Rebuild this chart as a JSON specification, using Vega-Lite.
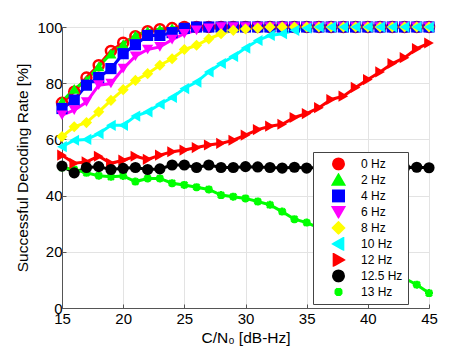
{
"$schema": "https://vega.github.io/schema/vega-lite/v6.json",
"width": 367, "height": 281,
"autosize": {"type": "none"},
"padding": {"left": 62, "top": 27, "right": 45, "bottom": 47},
"background": "white",
"config": {
 "font": "Liberation Sans",
 "view": {"stroke": "#555", "strokeWidth": 1},
 "axis": {"domainColor": "#555", "tickColor": "#555", "gridColor": "#e3e3e3", "labelColor": "black", "titleColor": "black", "labelFontSize": 15, "titleFontSize": 15.5, "titleFontWeight": "normal", "labelFont": "Liberation Sans", "titleFont": "Liberation Sans", "labelOverlap": false, "labelFlush": false, "tickSize": -4}
},
"datasets": {"d": [
{"s":"0 Hz","x":15,"y":73},{"s":"0 Hz","x":16,"y":77},{"s":"0 Hz","x":17,"y":82},{"s":"0 Hz","x":18,"y":86.4},{"s":"0 Hz","x":19,"y":91.5},{"s":"0 Hz","x":20,"y":94.4},{"s":"0 Hz","x":21,"y":96.7},{"s":"0 Hz","x":22,"y":98.5},{"s":"0 Hz","x":23,"y":99.2},{"s":"0 Hz","x":24,"y":99.6},{"s":"0 Hz","x":25,"y":100},{"s":"0 Hz","x":26,"y":100},{"s":"0 Hz","x":27,"y":100},{"s":"0 Hz","x":28,"y":100},{"s":"0 Hz","x":29,"y":100},{"s":"0 Hz","x":30,"y":100},{"s":"0 Hz","x":31,"y":100},{"s":"0 Hz","x":32,"y":100},{"s":"0 Hz","x":33,"y":100},{"s":"0 Hz","x":34,"y":100},{"s":"0 Hz","x":35,"y":100},{"s":"0 Hz","x":36,"y":100},{"s":"0 Hz","x":37,"y":100},{"s":"0 Hz","x":38,"y":100},{"s":"0 Hz","x":39,"y":100},{"s":"0 Hz","x":40,"y":100},{"s":"0 Hz","x":41,"y":100},{"s":"0 Hz","x":42,"y":100},{"s":"0 Hz","x":43,"y":100},{"s":"0 Hz","x":44,"y":100},{"s":"0 Hz","x":45,"y":100},
{"s":"2 Hz","x":15,"y":73.5},{"s":"2 Hz","x":16,"y":78},{"s":"2 Hz","x":17,"y":81},{"s":"2 Hz","x":18,"y":86},{"s":"2 Hz","x":19,"y":90.5},{"s":"2 Hz","x":20,"y":93.9},{"s":"2 Hz","x":21,"y":97},{"s":"2 Hz","x":22,"y":98.5},{"s":"2 Hz","x":23,"y":99.2},{"s":"2 Hz","x":24,"y":99.6},{"s":"2 Hz","x":25,"y":100},{"s":"2 Hz","x":26,"y":100},{"s":"2 Hz","x":27,"y":100},{"s":"2 Hz","x":28,"y":100},{"s":"2 Hz","x":29,"y":100},{"s":"2 Hz","x":30,"y":100},{"s":"2 Hz","x":31,"y":100},{"s":"2 Hz","x":32,"y":100},{"s":"2 Hz","x":33,"y":100},{"s":"2 Hz","x":34,"y":100},{"s":"2 Hz","x":35,"y":100},{"s":"2 Hz","x":36,"y":100},{"s":"2 Hz","x":37,"y":100},{"s":"2 Hz","x":38,"y":100},{"s":"2 Hz","x":39,"y":100},{"s":"2 Hz","x":40,"y":100},{"s":"2 Hz","x":41,"y":100},{"s":"2 Hz","x":42,"y":100},{"s":"2 Hz","x":43,"y":100},{"s":"2 Hz","x":44,"y":100},{"s":"2 Hz","x":45,"y":100},
{"s":"4 Hz","x":15,"y":71},{"s":"4 Hz","x":16,"y":74},{"s":"4 Hz","x":17,"y":79.3},{"s":"4 Hz","x":18,"y":82},{"s":"4 Hz","x":19,"y":85.2},{"s":"4 Hz","x":20,"y":90.5},{"s":"4 Hz","x":21,"y":93.7},{"s":"4 Hz","x":22,"y":97},{"s":"4 Hz","x":23,"y":97},{"s":"4 Hz","x":24,"y":98},{"s":"4 Hz","x":25,"y":99.5},{"s":"4 Hz","x":26,"y":100},{"s":"4 Hz","x":27,"y":100},{"s":"4 Hz","x":28,"y":100},{"s":"4 Hz","x":29,"y":100},{"s":"4 Hz","x":30,"y":100},{"s":"4 Hz","x":31,"y":100},{"s":"4 Hz","x":32,"y":100},{"s":"4 Hz","x":33,"y":100},{"s":"4 Hz","x":34,"y":100},{"s":"4 Hz","x":35,"y":100},{"s":"4 Hz","x":36,"y":100},{"s":"4 Hz","x":37,"y":100},{"s":"4 Hz","x":38,"y":100},{"s":"4 Hz","x":39,"y":100},{"s":"4 Hz","x":40,"y":100},{"s":"4 Hz","x":41,"y":100},{"s":"4 Hz","x":42,"y":100},{"s":"4 Hz","x":43,"y":100},{"s":"4 Hz","x":44,"y":100},{"s":"4 Hz","x":45,"y":100},
{"s":"6 Hz","x":15,"y":68.6},{"s":"6 Hz","x":16,"y":70.4},{"s":"6 Hz","x":17,"y":73.3},{"s":"6 Hz","x":18,"y":79.3},{"s":"6 Hz","x":19,"y":79.9},{"s":"6 Hz","x":20,"y":85.2},{"s":"6 Hz","x":21,"y":89.6},{"s":"6 Hz","x":22,"y":92},{"s":"6 Hz","x":23,"y":92.9},{"s":"6 Hz","x":24,"y":95.5},{"s":"6 Hz","x":25,"y":97.6},{"s":"6 Hz","x":26,"y":98.8},{"s":"6 Hz","x":27,"y":99.5},{"s":"6 Hz","x":28,"y":100},{"s":"6 Hz","x":29,"y":100},{"s":"6 Hz","x":30,"y":100},{"s":"6 Hz","x":31,"y":100},{"s":"6 Hz","x":32,"y":100},{"s":"6 Hz","x":33,"y":100},{"s":"6 Hz","x":34,"y":100},{"s":"6 Hz","x":35,"y":100},{"s":"6 Hz","x":36,"y":100},{"s":"6 Hz","x":37,"y":100},{"s":"6 Hz","x":38,"y":100},{"s":"6 Hz","x":39,"y":100},{"s":"6 Hz","x":40,"y":100},{"s":"6 Hz","x":41,"y":100},{"s":"6 Hz","x":42,"y":100},{"s":"6 Hz","x":43,"y":100},{"s":"6 Hz","x":44,"y":100},{"s":"6 Hz","x":45,"y":100},
{"s":"8 Hz","x":15,"y":61},{"s":"8 Hz","x":16,"y":64.5},{"s":"8 Hz","x":17,"y":66},{"s":"8 Hz","x":18,"y":69.8},{"s":"8 Hz","x":19,"y":73.9},{"s":"8 Hz","x":20,"y":77.7},{"s":"8 Hz","x":21,"y":81},{"s":"8 Hz","x":22,"y":83.4},{"s":"8 Hz","x":23,"y":86.4},{"s":"8 Hz","x":24,"y":88.7},{"s":"8 Hz","x":25,"y":92},{"s":"8 Hz","x":26,"y":93.5},{"s":"8 Hz","x":27,"y":95.8},{"s":"8 Hz","x":28,"y":97.6},{"s":"8 Hz","x":29,"y":98.8},{"s":"8 Hz","x":30,"y":99.3},{"s":"8 Hz","x":31,"y":99.6},{"s":"8 Hz","x":32,"y":100},{"s":"8 Hz","x":33,"y":100},{"s":"8 Hz","x":34,"y":100},{"s":"8 Hz","x":35,"y":100},{"s":"8 Hz","x":36,"y":100},{"s":"8 Hz","x":37,"y":100},{"s":"8 Hz","x":38,"y":100},{"s":"8 Hz","x":39,"y":100},{"s":"8 Hz","x":40,"y":100},{"s":"8 Hz","x":41,"y":100},{"s":"8 Hz","x":42,"y":100},{"s":"8 Hz","x":43,"y":100},{"s":"8 Hz","x":44,"y":100},{"s":"8 Hz","x":45,"y":100},
{"s":"10 Hz","x":15,"y":57.4},{"s":"10 Hz","x":16,"y":59.7},{"s":"10 Hz","x":17,"y":60},{"s":"10 Hz","x":18,"y":62},{"s":"10 Hz","x":19,"y":65},{"s":"10 Hz","x":20,"y":65},{"s":"10 Hz","x":21,"y":68.3},{"s":"10 Hz","x":22,"y":69.8},{"s":"10 Hz","x":23,"y":72.5},{"s":"10 Hz","x":24,"y":74.9},{"s":"10 Hz","x":25,"y":78.1},{"s":"10 Hz","x":26,"y":80.4},{"s":"10 Hz","x":27,"y":84},{"s":"10 Hz","x":28,"y":87},{"s":"10 Hz","x":29,"y":89.5},{"s":"10 Hz","x":30,"y":92.5},{"s":"10 Hz","x":31,"y":95.2},{"s":"10 Hz","x":32,"y":97},{"s":"10 Hz","x":33,"y":97.6},{"s":"10 Hz","x":34,"y":98.8},{"s":"10 Hz","x":35,"y":99.6},{"s":"10 Hz","x":36,"y":100},{"s":"10 Hz","x":37,"y":100},{"s":"10 Hz","x":38,"y":100},{"s":"10 Hz","x":39,"y":100},{"s":"10 Hz","x":40,"y":100},{"s":"10 Hz","x":41,"y":100},{"s":"10 Hz","x":42,"y":100},{"s":"10 Hz","x":43,"y":100},{"s":"10 Hz","x":44,"y":100},{"s":"10 Hz","x":45,"y":100},
{"s":"12 Hz","x":15,"y":54.4},{"s":"12 Hz","x":16,"y":51.5},{"s":"12 Hz","x":17,"y":52},{"s":"12 Hz","x":18,"y":54},{"s":"12 Hz","x":19,"y":51.5},{"s":"12 Hz","x":20,"y":52.6},{"s":"12 Hz","x":21,"y":54},{"s":"12 Hz","x":22,"y":52.9},{"s":"12 Hz","x":23,"y":54.4},{"s":"12 Hz","x":24,"y":55.6},{"s":"12 Hz","x":25,"y":56.2},{"s":"12 Hz","x":26,"y":57.1},{"s":"12 Hz","x":27,"y":58},{"s":"12 Hz","x":28,"y":58.6},{"s":"12 Hz","x":29,"y":59.7},{"s":"12 Hz","x":30,"y":61.5},{"s":"12 Hz","x":31,"y":63.5},{"s":"12 Hz","x":32,"y":64.7},{"s":"12 Hz","x":33,"y":65.4},{"s":"12 Hz","x":34,"y":67.8},{"s":"12 Hz","x":35,"y":69.2},{"s":"12 Hz","x":36,"y":71.3},{"s":"12 Hz","x":37,"y":74.2},{"s":"12 Hz","x":38,"y":75.4},{"s":"12 Hz","x":39,"y":78.5},{"s":"12 Hz","x":40,"y":81.3},{"s":"12 Hz","x":41,"y":84},{"s":"12 Hz","x":42,"y":87},{"s":"12 Hz","x":43,"y":89.1},{"s":"12 Hz","x":44,"y":92.3},{"s":"12 Hz","x":45,"y":94.3},
{"s":"12.5 Hz","x":15,"y":50.5},{"s":"12.5 Hz","x":16,"y":48.1},{"s":"12.5 Hz","x":17,"y":50},{"s":"12.5 Hz","x":18,"y":50.3},{"s":"12.5 Hz","x":19,"y":49.3},{"s":"12.5 Hz","x":20,"y":49.7},{"s":"12.5 Hz","x":21,"y":50},{"s":"12.5 Hz","x":22,"y":49.3},{"s":"12.5 Hz","x":23,"y":49.5},{"s":"12.5 Hz","x":24,"y":50.9},{"s":"12.5 Hz","x":25,"y":50.9},{"s":"12.5 Hz","x":26,"y":50},{"s":"12.5 Hz","x":27,"y":50.9},{"s":"12.5 Hz","x":28,"y":50},{"s":"12.5 Hz","x":29,"y":50},{"s":"12.5 Hz","x":30,"y":50.3},{"s":"12.5 Hz","x":31,"y":50.2},{"s":"12.5 Hz","x":32,"y":50},{"s":"12.5 Hz","x":33,"y":49.8},{"s":"12.5 Hz","x":34,"y":50.1},{"s":"12.5 Hz","x":35,"y":49.8},{"s":"12.5 Hz","x":36,"y":50},{"s":"12.5 Hz","x":37,"y":50},{"s":"12.5 Hz","x":38,"y":50},{"s":"12.5 Hz","x":39,"y":50},{"s":"12.5 Hz","x":40,"y":50},{"s":"12.5 Hz","x":41,"y":50},{"s":"12.5 Hz","x":42,"y":50},{"s":"12.5 Hz","x":43,"y":50},{"s":"12.5 Hz","x":44,"y":50.1},{"s":"12.5 Hz","x":45,"y":49.9},
{"s":"13 Hz","x":15,"y":50},{"s":"13 Hz","x":16,"y":49.3},{"s":"13 Hz","x":17,"y":48.1},{"s":"13 Hz","x":18,"y":47.1},{"s":"13 Hz","x":19,"y":46.7},{"s":"13 Hz","x":20,"y":47},{"s":"13 Hz","x":21,"y":45},{"s":"13 Hz","x":22,"y":46.1},{"s":"13 Hz","x":23,"y":46.1},{"s":"13 Hz","x":24,"y":44.4},{"s":"13 Hz","x":25,"y":43.8},{"s":"13 Hz","x":26,"y":43},{"s":"13 Hz","x":27,"y":42.2},{"s":"13 Hz","x":28,"y":40.2},{"s":"13 Hz","x":29,"y":39.6},{"s":"13 Hz","x":30,"y":39},{"s":"13 Hz","x":31,"y":37.9},{"s":"13 Hz","x":32,"y":36.7},{"s":"13 Hz","x":33,"y":34.3},{"s":"13 Hz","x":34,"y":31.6},{"s":"13 Hz","x":35,"y":30.4},{"s":"13 Hz","x":36,"y":28.5},{"s":"13 Hz","x":37,"y":26},{"s":"13 Hz","x":38,"y":23.5},{"s":"13 Hz","x":39,"y":21},{"s":"13 Hz","x":40,"y":18.5},{"s":"13 Hz","x":41,"y":16},{"s":"13 Hz","x":42,"y":13},{"s":"13 Hz","x":43,"y":10.6},{"s":"13 Hz","x":44,"y":8.3},{"s":"13 Hz","x":45,"y":5.3}
]},
"data": {"name": "d"},
"encoding": {
 "x": {"field": "x", "type": "quantitative", "scale": {"domain": [15, 45], "nice": false}, "axis": {"values": [15,20,25,30,35,40,45], "title": "C/N₀ [dB-Hz]", "labelPadding": 7, "titlePadding": 4}},
 "y": {"field": "y", "type": "quantitative", "scale": {"domain": [0, 100], "nice": false}, "axis": {"values": [0,20,40,60,80,100], "title": "Successful Decoding Rate [%]", "labelPadding": 4, "titlePadding": 6}},
 "color": {"field": "s", "type": "nominal",
  "scale": {"domain": ["0 Hz","2 Hz","4 Hz","6 Hz","8 Hz","10 Hz","12 Hz","12.5 Hz","13 Hz"], "range": ["#ff0000","#00ff00","#0000ff","#ff00ff","#ffff00","#00ffff","#ff0000","#000000","#00ff00"]},
  "legend": {"title": null, "orient": "none", "legendX": 251, "legendY": 125, "padding": 5, "strokeColor": "#444", "fillColor": "white", "labelFontSize": 12, "labelFont": "Liberation Sans", "labelColor": "black", "symbolSize": 100, "symbolStrokeWidth": 3, "rowPadding": 2, "clipHeight": 13.8, "symbolOffset": 14, "labelOffset": 16}
 }
},
"layer": [
 {"mark": {"type": "line", "strokeWidth": 3, "opacity": 1}},
 {"transform": [{"filter": {"field": "s", "oneOf": ["0 Hz", "13 Hz"]}}],
  "mark": {"type": "point", "filled": false, "size": 100, "strokeWidth": 2.5, "opacity": 1},
  "encoding": {"shape": {"field": "s", "type": "nominal", "legend": null, "scale": {"domain": ["0 Hz","2 Hz","4 Hz","6 Hz","8 Hz","10 Hz","12 Hz","12.5 Hz","13 Hz"], "range": ["circle","triangle-up","square","triangle-down","diamond","triangle-left","triangle-right","circle","M0,-0.8L0,0.8M-0.8,0L0.8,0M-0.6,-0.6L0.6,0.6M-0.6,0.6L0.6,-0.6"]}}}},
 {"transform": [{"filter": {"not": {"field": "s", "oneOf": ["0 Hz", "13 Hz"]}}}],
  "mark": {"type": "point", "filled": true, "size": 125, "opacity": 1},
  "encoding": {"shape": {"field": "s", "type": "nominal", "legend": null}}}
]
}
